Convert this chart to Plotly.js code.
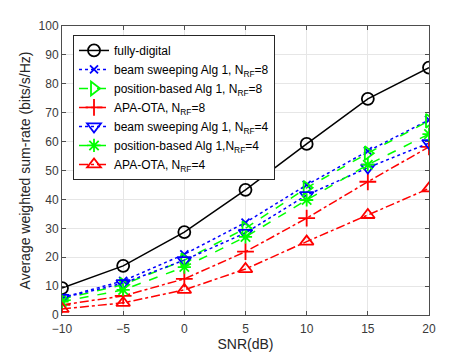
<!DOCTYPE html>
<html>
<head>
<meta charset="utf-8">
<script src="https://cdn.plot.ly/plotly-3.0.1.min.js"></script>
<style>html,body{margin:0;padding:0;background:#fff;}#chart{width:474px;height:355px;}</style>
</head>
<body>
<div id="chart"></div>
<script>
const snr = [-10, -5, 0, 5, 10, 15, 20];
const fullyDigital = [9.3, 17.0, 28.7, 43.3, 59.2, 74.8, 85.6];
const beamSweep8 = [6.0, 11.8, 21.0, 32.0, 45.0, 56.7, 67.5];
const posBased8 = [5.5, 10.5, 19.0, 30.0, 44.0, 56.0, 67.2];
const apaOta8 = [3.5, 6.6, 12.5, 21.9, 33.5, 46.1, 58.2];
const beamSweep4 = [5.9, 11.0, 19.0, 28.4, 41.5, 51.0, 59.5];
const posBased4 = [4.6, 8.7, 16.6, 27.0, 39.8, 52.0, 62.6];
const apaOta4 = [2.1, 4.2, 8.7, 15.9, 25.4, 34.6, 43.8];
const names = [
  'fully-digital',
  'beam sweeping Alg 1, N<sub>RF</sub>=8',
  'position-based Alg 1, N<sub>RF</sub>=8',
  'APA-OTA, N<sub>RF</sub>=8',
  'beam sweeping Alg 1, N<sub>RF</sub>=4',
  'position-based Alg 1,N<sub>RF</sub>=4',
  'APA-OTA, N<sub>RF</sub>=4'
];
const series = [fullyDigital, beamSweep8, posBased8, apaOta8, beamSweep4, posBased4, apaOta4];
const colors = ['#000000', '#0000ff', '#00ff00', '#ff0000', '#0000ff', '#00ff00', '#ff0000'];
const dashes = ['solid', 'dot', 'dash', 'dashdot', 'dot', 'dash', 'dashdot'];
const symbols = ['circle-open', 'x-thin-open', 'triangle-right-open', 'cross-thin-open', 'triangle-down-open', 'asterisk-open', 'triangle-up-open'];
const sizes = [12, 8, 12, 12, 12, 11, 12];

const traces = series.map((ys, i) => ({
  x: snr, y: ys, name: names[i], type: 'scatter', mode: 'lines+markers',
  line: {color: colors[i], dash: dashes[i], width: 1.5},
  marker: {symbol: symbols[i], size: sizes[i], color: colors[i], line: {color: colors[i], width: 1.8}}
}));

const axisCommon = {
  showline: true, linecolor: '#4d4d4d', linewidth: 1, mirror: 'ticks',
  ticks: 'inside', ticklen: 4, tickcolor: '#4d4d4d',
  showgrid: true, gridcolor: '#e6e6e6', gridwidth: 1, zeroline: false,
  tickfont: {family: 'Liberation Sans, Arial, sans-serif', size: 12, color: '#3a3a3a'}
};

const layout = {
  width: 474, height: 355,
  margin: {l: 62, r: 45, t: 26, b: 40},
  paper_bgcolor: '#ffffff', plot_bgcolor: '#ffffff',
  xaxis: Object.assign({}, axisCommon, {
    range: [-10, 20], tickvals: [-10, -5, 0, 5, 10, 15, 20],
    ticklabelstandoff: 3,
    title: {text: 'SNR(dB)', font: {family: 'Liberation Sans, Arial, sans-serif', size: 14, color: '#262626'}, standoff: 0}
  }),
  yaxis: Object.assign({}, axisCommon, {
    range: [0, 100], tickvals: [0, 10, 20, 30, 40, 50, 60, 70, 80, 90, 100],
    title: {text: 'Average weighted sum-rate (bits/s/Hz)', font: {family: 'Liberation Sans, Arial, sans-serif', size: 14, color: '#262626'}, standoff: 4}
  }),
  showlegend: true,
  legend: {
    x: 0.03, y: 0.969, xanchor: 'left', yanchor: 'top',
    bgcolor: '#ffffff', bordercolor: '#262626', borderwidth: 1,
    font: {family: 'Liberation Sans, Arial, sans-serif', size: 12, color: '#000000'},
    tracegroupgap: 0, itemwidth: 30
  }
};

Plotly.newPlot('chart', traces, layout, {displayModeBar: false, staticPlot: true});
</script>
</body>
</html>
